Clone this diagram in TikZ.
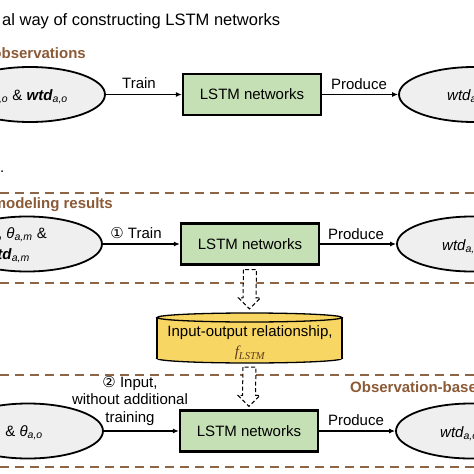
\documentclass[tikz,border=0pt]{standalone}
\usepackage{fontspec}
\setmainfont{Liberation Sans}
\newfontfamily\dejavu{DejaVu Sans}
\newfontfamily\serifit{Liberation Serif}
\usetikzlibrary{shapes.geometric,arrows.meta,calc,backgrounds}
\definecolor{brn}{RGB}{139,90,55}
\definecolor{dashbrn}{RGB}{140,100,70}
\definecolor{boxgreen}{RGB}{197,224,180}
\definecolor{ellgray}{RGB}{239,239,239}
\definecolor{cylyellow}{RGB}{248,214,100}
\definecolor{fcol}{RGB}{90,60,30}
\begin{document}
\begin{tikzpicture}[x=1pt,y=-1pt,
  lstm/.style={draw, line width=2.2pt, fill=boxgreen, minimum width=138pt, minimum height=41pt, inner sep=0pt, font=\fontsize{15}{18}\selectfont},
  oval/.style={ellipse, draw, line width=1.8pt, fill=ellgray, minimum width=150pt, minimum height=55pt, inner sep=0pt},
  flow/.style={-{Latex[length=6pt,width=5pt]}, line width=1.3pt},
  lbl/.style={font=\fontsize{15}{17.5}\selectfont, inner sep=0pt, align=center},
  sect/.style={font=\bfseries\fontsize{15}{18}\selectfont, text=brn, inner sep=0pt},
  sepline/.style={dashbrn, line width=2.2pt, dash pattern=on 9pt off 6pt},
  hollow/.style={line width=1pt, dash pattern=on 4pt off 2.5pt, fill=white},
  etext/.style={font=\fontsize{15}{18}\selectfont, inner sep=0pt}
]
\useasboundingbox (0,0) rectangle (474,474);
\clip (0,0) rectangle (474,474);

% title and section labels
\node[anchor=base west, font=\fontsize{16.5}{20}\selectfont, inner sep=0pt] (title) at (2,25) {al way of constructing LSTM networks};
\node[sect, anchor=base east] (obs) at (86,58) {observations};
\node[etext, anchor=base west] (dot) at (0,172) {.};
\node[sect, anchor=base east] (mod) at (113,208) {modeling results};
\node[sect, anchor=base west] (obsb) at (350,392) {Observation-based};

% separators
\draw[sepline] (0,193) -- (474,193);
\draw[sepline] (0,283) -- (474,283);
\draw[sepline] (0,375) -- (474,375);
\draw[sepline] (0,467) -- (474,467);

% row 1
\node[oval] (e1) at (30,94.5) {};
\node[oval] (r1) at (474,94.5) {};
\node[lstm] (b1) at (252,94.5) {LSTM networks};
\draw[flow] (e1.east) -- (b1.west);
\draw[flow] (b1.east) -- (r1.west);
\node[lbl] (l1a) at (139,83) {Train};
\node[lbl] (l1b) at (359,84) {Produce};
\node[etext, anchor=base east] (t1l) at (68,100) {\textit{\textsubscript{a,o}} \& \textbf{\textit{wtd}}\textsubscript{\textit{a,o}}};
\node[etext, anchor=base west] (t1r) at (447,100) {\textit{wtd\textsubscript{a,o}}};

% row 2
\node[oval] (e2) at (27,244) {};
\node[oval] (r2) at (472,244) {};
\node[lstm] (b2) at (250,244) {LSTM networks};
\draw[flow] (e2.east) -- (b2.west);
\draw[flow] (b2.east) -- (r2.west);
\node[lbl] (l2a) at (136,233) {{\dejavu ①} Train};
\node[lbl] (l2b) at (356,234) {Produce};
\node[etext, anchor=base east] (t2a) at (47,238) {, \textit{θ\textsubscript{a,m}} \&};
\node[etext, anchor=base east] (t2b) at (30,259) {\textbf{\textit{wtd}}\textsubscript{\textit{a,m}}};
\node[etext, anchor=base west] (t2r) at (442,250) {\textit{wtd\textsubscript{a,m}}};

% cylinder
\node[minimum width=185pt, minimum height=50pt, inner sep=0pt] (cyl) at (249.5,338) {};
\node[lbl, font=\fontsize{15}{20}\selectfont] (cyltxt) at (250,343) {Input-output relationship,\\{\color{fcol}\serifit\itshape f\textsubscript{LSTM}}};
\begin{scope}[on background layer]
  \filldraw[fill=cylyellow, line width=1.3pt] ($(cyl.center)+(0,20.5)$) ellipse [x radius=92.5pt, y radius=4.5pt];
  \fill[cylyellow] ($(cyl.center)+(-92.5,-20.5)$) rectangle ($(cyl.center)+(92.5,20.5)$);
  \draw[line width=1.3pt] ($(cyl.center)+(-92.5,-20.5)$) -- ($(cyl.center)+(-92.5,20.5)$);
  \draw[line width=1.3pt] ($(cyl.center)+(92.5,-20.5)$) -- ($(cyl.center)+(92.5,20.5)$);
  \filldraw[fill=cylyellow, line width=1.3pt] ($(cyl.center)+(0,-20.5)$) ellipse [x radius=92.5pt, y radius=4.5pt];
\end{scope}

% row 3
\node[oval] (e3) at (28,431) {};
\node[oval] (r3) at (471,431) {};
\node[lstm] (b3) at (249,431) {LSTM networks};
\draw[flow] (e3.east) -- (b3.west);
\draw[flow] (b3.east) -- (r3.west);
\node[lbl] (l3a) at (130,401) {{\dejavu ②} Input,\\without additional\\training};
\node[lbl] (l3b) at (356,420) {Produce};
\node[etext, anchor=base east] (t3l) at (43,436) {, \& \textit{θ\textsubscript{a,o}}};
\node[etext, anchor=base west] (t3r) at (440,437) {\textit{wtd\textsubscript{a,o}}};

% hollow dashed arrows
\draw[hollow] ($(b2.south)+(-6.5,4)$) -- ($(cyl.north)+(-6.5,-15)$) -- ($(cyl.north)+(-11,-15)$) -- ($(cyl.north)+(0,-4)$) -- ($(cyl.north)+(11,-15)$) -- ($(cyl.north)+(6.5,-15)$) -- ($(b2.south)+(6.5,4)$) -- cycle;
\draw[hollow] ($(cyl.south)+(-6.5,4)$) -- ($(b3.north)+(-6.5,-14)$) -- ($(b3.north)+(-11,-14)$) -- ($(b3.north)+(0,-3)$) -- ($(b3.north)+(11,-14)$) -- ($(b3.north)+(6.5,-14)$) -- ($(cyl.south)+(6.5,4)$) -- cycle;
\end{tikzpicture}
\end{document}
